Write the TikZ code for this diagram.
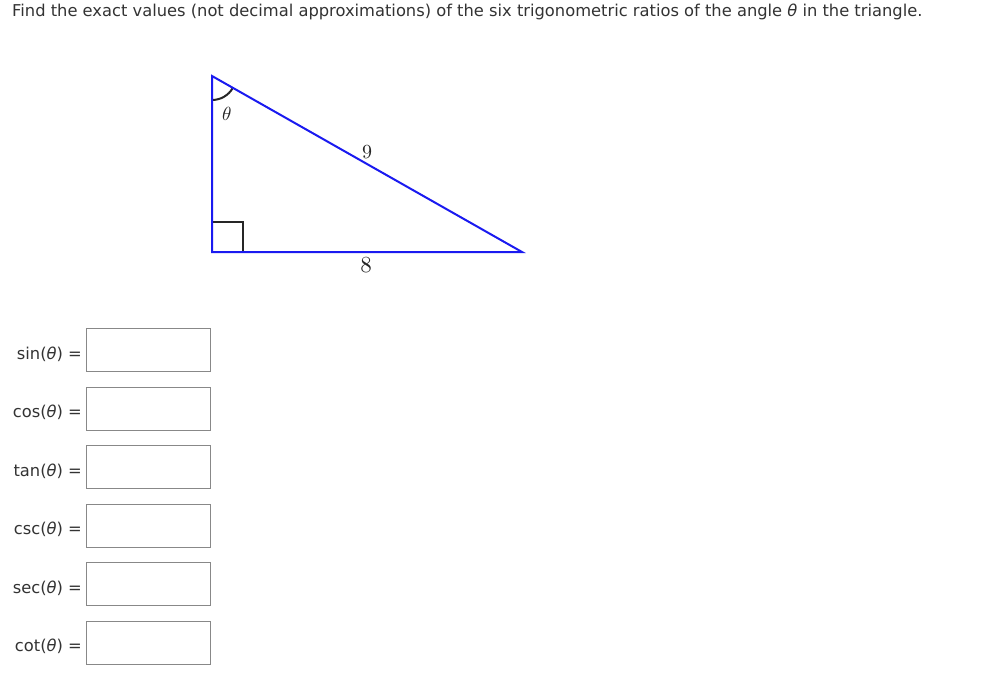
\documentclass[tikz,border=0pt]{standalone}
\usepackage{fontspec}
\setmainfont{DejaVu Sans}
\newfontfamily\lmr{lmroman10-regular.otf}
\newfontfamily\lmmath{latinmodern-math.otf}
\definecolor{txt}{HTML}{333333}
\definecolor{boxgray}{HTML}{888888}
\definecolor{triblue}{HTML}{1A1AF0}
\begin{document}
\begin{tikzpicture}[x=1pt,y=-1pt,
  lbl/.style={anchor=base west,text=txt,font=\fontsize{16.3}{19}\selectfont,inner sep=0pt},
  ansbox/.style={draw=boxgray,line width=1pt,minimum width=124pt,minimum height=43pt,anchor=north west,inner sep=0pt},
  side/.style={draw=triblue,line width=2pt},
  anglemark/.style={draw=black!85,line width=2pt},
  trilbl/.style={inner sep=0pt,text=black!85}]
\useasboundingbox (0,0) rectangle (990,679);
\fill[white] (0,0) rectangle (990,679);
\node[lbl] (title) at (12,17) {Find the exact values (not decimal approximations) of the six trigonometric ratios of the angle \textit{θ} in the triangle.};
% triangle
\coordinate (A) at (212,76);
\coordinate (C) at (212,252);
\coordinate (B) at (522,252);
\draw[anglemark] (212,222) -- (243,222) -- (243,252);
\draw[anglemark] (A) ++(0,24) arc[start angle=90,end angle=29.6,radius=24];
\draw[side,line join=miter] (A) -- (C) -- (B) -- cycle;
\node[trilbl] (th) at (227,114) {\fontsize{19}{22}\selectfont\lmmath 𝜃};
\node[trilbl] (nine) at (367,152) {\fontsize{20}{24}\selectfont\lmr 9};
\node[trilbl] (eight) at (366,265) {\fontsize{23}{26}\selectfont\lmr 8};
% answer rows
\foreach \name/\txt/\yy in {s/sin/328, c/cos/386.5, t/tan/445, cs/csc/503.5, se/sec/562, ct/cot/620.5}{
  \node[ansbox] (box\name) at (86,\yy) {};
  \node[lbl,anchor=base east] (lab\name) at (82,\yy+31) {\txt(\textit{θ}) =};
}
\end{tikzpicture}
\end{document}
